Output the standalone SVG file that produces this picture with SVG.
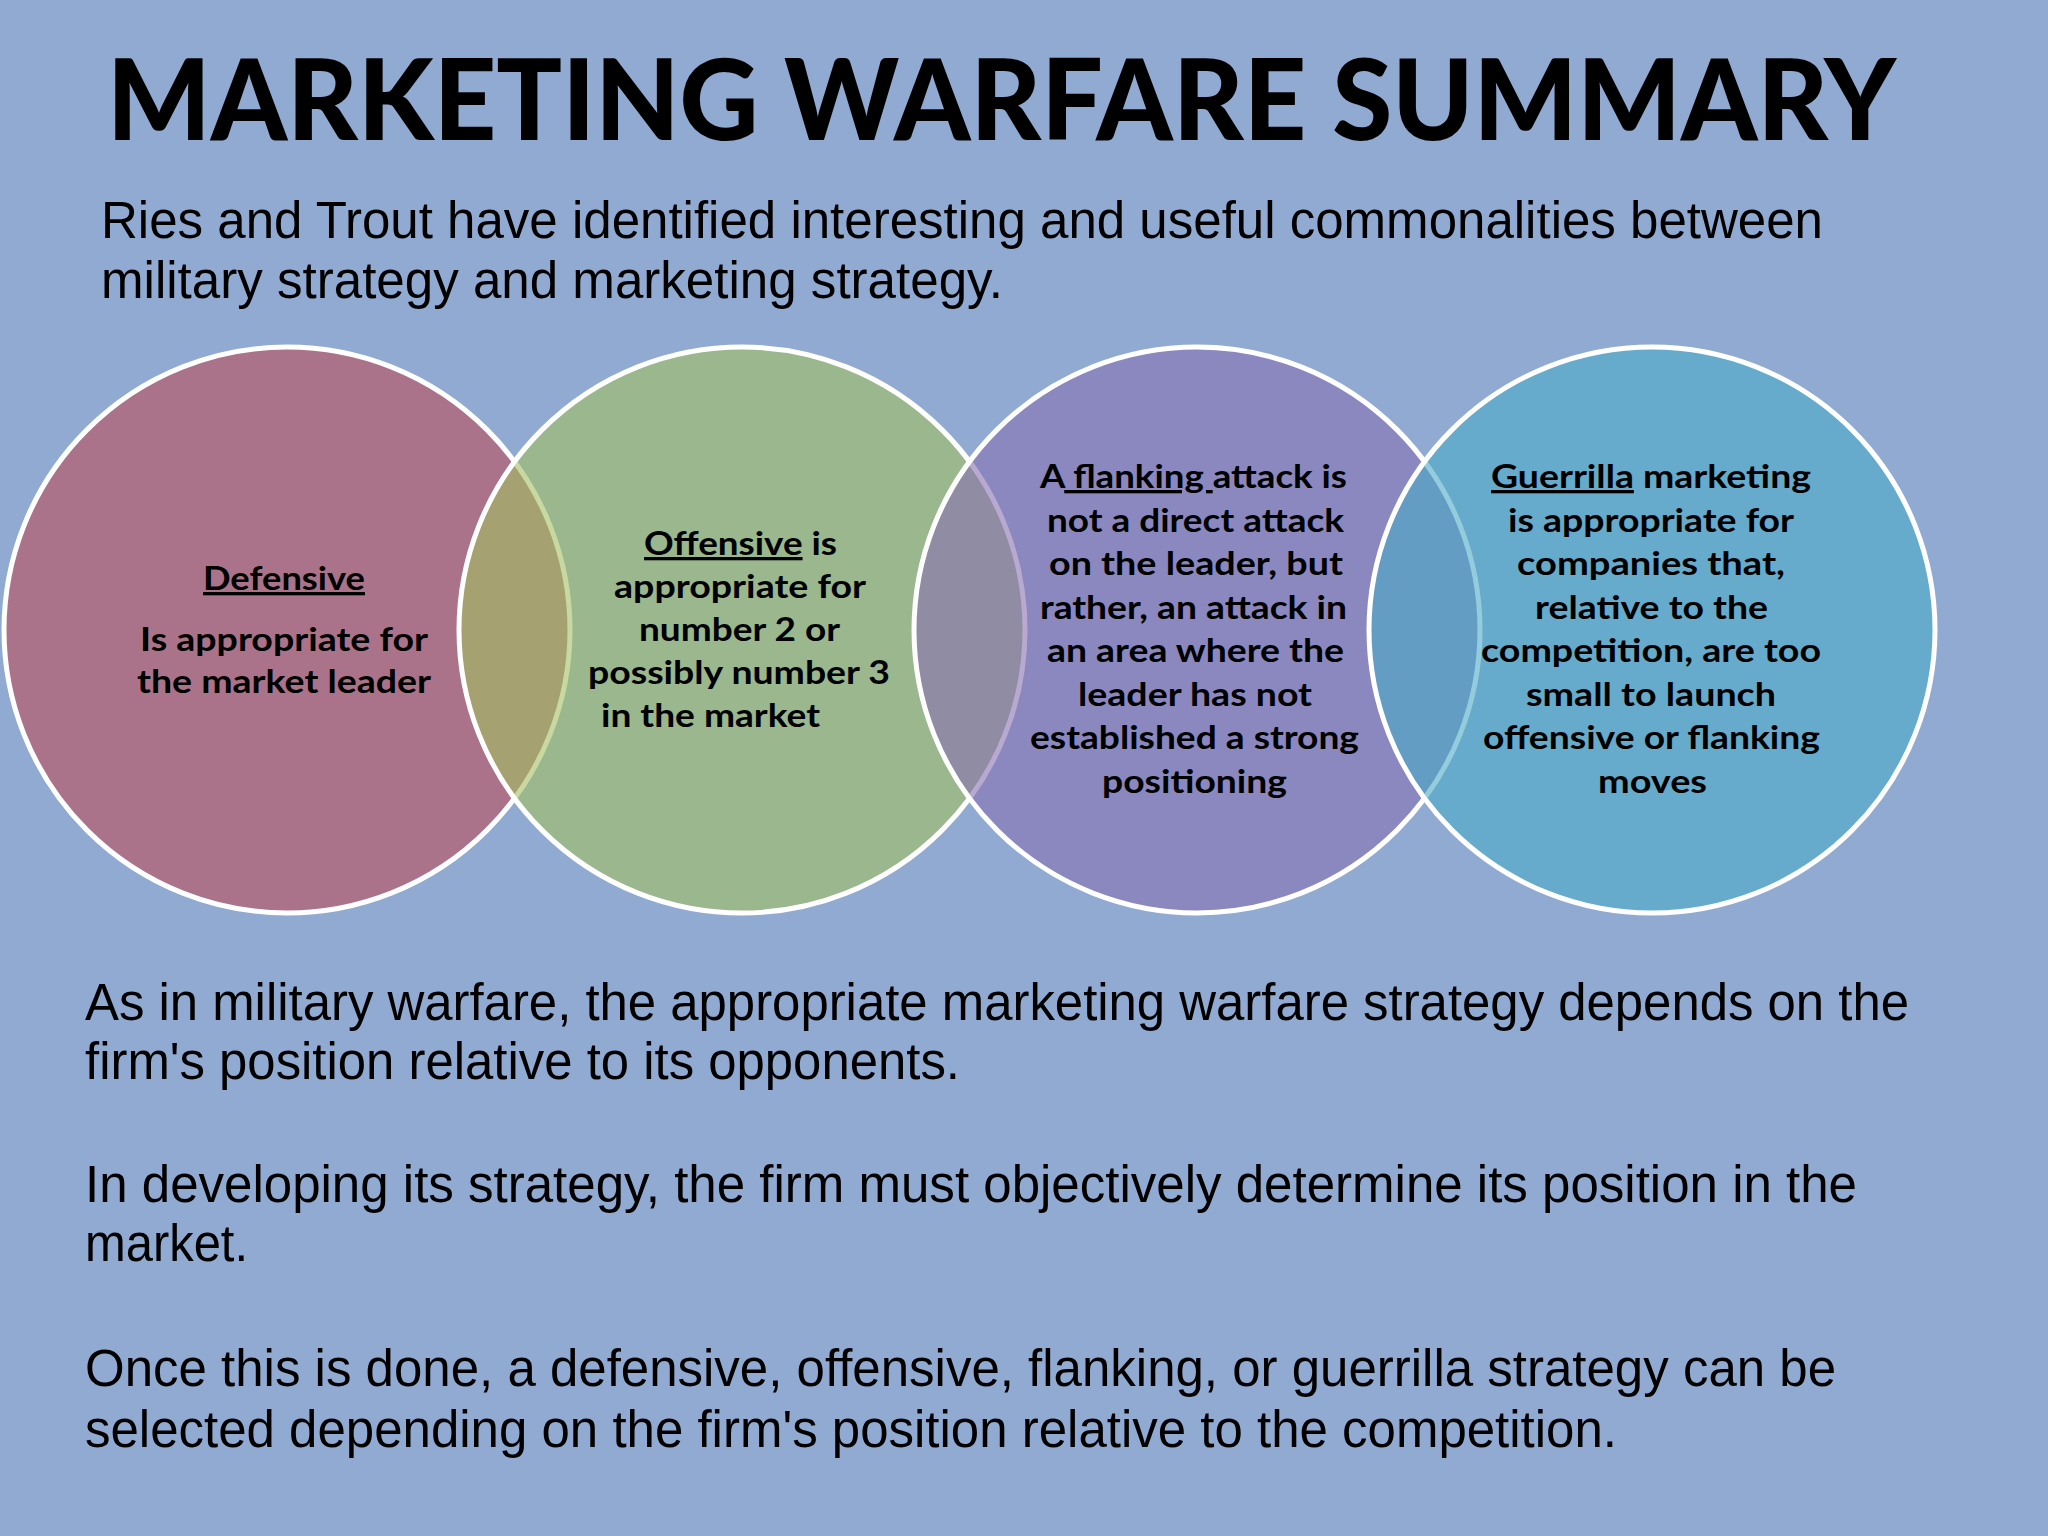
<svg xmlns="http://www.w3.org/2000/svg" width="2048" height="1536" viewBox="0 0 2048 1536">
<style>
.title{font-family:Lato,"Open Sans","Liberation Sans",sans-serif;font-weight:900;font-size:112px;fill:#000}
.body{font-family:"Liberation Sans",Arial,sans-serif;font-size:51px;fill:#000}
.ct{font-family:Lato,"Open Sans","Liberation Sans",sans-serif;font-weight:700;font-size:33px;fill:#000}
.ul{text-decoration:underline}
.circ{stroke:#fff;stroke-width:5;fill-opacity:0.6}
</style>
<rect x="0" y="0" width="2048" height="1536" fill="#90AAD2"/>
<text class="title" x="107" y="140" textLength="1789" lengthAdjust="spacingAndGlyphs">MARKETING WARFARE SUMMARY</text>
<g id="intro">
<text class="body" x="101" y="238" textLength="1722" lengthAdjust="spacingAndGlyphs">Ries and Trout have identified interesting and useful commonalities between</text>
<text class="body" x="101" y="298" textLength="902" lengthAdjust="spacingAndGlyphs">military strategy and marketing strategy.</text>
</g>
<g id="defensive">
<circle class="circ" cx="287" cy="630" r="283" fill="#BE4E58"/>
</g>
<g id="offensive">
<circle class="circ" cx="742" cy="630" r="283" fill="#A2C060"/>
</g>
<g id="flanking">
<circle class="circ" cx="1197" cy="630" r="283" fill="#8870B2"/>
</g>
<g id="guerrilla">
<circle class="circ" cx="1652" cy="630" r="283" fill="#4BACC6"/>
</g>
<g id="connectors"></g>
<g id="labels">
<text class="ct" x="203" y="590" textLength="162" lengthAdjust="spacingAndGlyphs"><tspan class="ul">Defensive</tspan></text>
<text class="ct" x="140" y="651" textLength="288" lengthAdjust="spacingAndGlyphs">Is appropriate for</text>
<text class="ct" x="137" y="693" textLength="294" lengthAdjust="spacingAndGlyphs">the market leader</text>

<text class="ct" x="644" y="555" textLength="193" lengthAdjust="spacingAndGlyphs"><tspan class="ul">Offensive</tspan> is</text>
<text class="ct" x="614" y="598" textLength="252" lengthAdjust="spacingAndGlyphs">appropriate for</text>
<text class="ct" x="639" y="641" textLength="201" lengthAdjust="spacingAndGlyphs">number 2 or</text>
<text class="ct" x="588" y="684" textLength="302" lengthAdjust="spacingAndGlyphs">possibly number 3</text>
<text class="ct" x="601" y="727" textLength="219" lengthAdjust="spacingAndGlyphs">in the market</text>

<text class="ct" x="1040" y="488" textLength="307" lengthAdjust="spacingAndGlyphs">A<tspan class="ul"> flanking </tspan>attack is</text>
<text class="ct" x="1047" y="531.5" textLength="297" lengthAdjust="spacingAndGlyphs">not a direct attack</text>
<text class="ct" x="1049" y="575" textLength="294" lengthAdjust="spacingAndGlyphs">on the leader, but</text>
<text class="ct" x="1040" y="618.5" textLength="307" lengthAdjust="spacingAndGlyphs">rather, an attack in</text>
<text class="ct" x="1047" y="662" textLength="297" lengthAdjust="spacingAndGlyphs">an area where the</text>
<text class="ct" x="1078" y="705.5" textLength="234" lengthAdjust="spacingAndGlyphs">leader has not</text>
<text class="ct" x="1030" y="749" textLength="329" lengthAdjust="spacingAndGlyphs">established a strong</text>
<text class="ct" x="1102" y="792.5" textLength="185" lengthAdjust="spacingAndGlyphs">positioning</text>

<text class="ct" x="1491" y="488" textLength="320" lengthAdjust="spacingAndGlyphs"><tspan class="ul">Guerrilla</tspan> marketing</text>
<text class="ct" x="1508" y="531.5" textLength="286" lengthAdjust="spacingAndGlyphs">is appropriate for</text>
<text class="ct" x="1517" y="575" textLength="268" lengthAdjust="spacingAndGlyphs">companies that,</text>
<text class="ct" x="1535" y="618.5" textLength="233" lengthAdjust="spacingAndGlyphs">relative to the</text>
<text class="ct" x="1481" y="662" textLength="340" lengthAdjust="spacingAndGlyphs">competition, are too</text>
<text class="ct" x="1526" y="705.5" textLength="250" lengthAdjust="spacingAndGlyphs">small to launch</text>
<text class="ct" x="1483" y="749" textLength="337" lengthAdjust="spacingAndGlyphs">offensive or flanking</text>
<text class="ct" x="1598" y="792.5" textLength="109" lengthAdjust="spacingAndGlyphs">moves</text>
</g>
<g id="summary">
<text class="body" x="85" y="1020" textLength="1824" lengthAdjust="spacingAndGlyphs">As in military warfare, the appropriate marketing warfare strategy depends on the</text>
<text class="body" x="85" y="1079" textLength="875" lengthAdjust="spacingAndGlyphs">firm's position relative to its opponents.</text>
<text class="body" x="85" y="1202" textLength="1772" lengthAdjust="spacingAndGlyphs">In developing its strategy, the firm must objectively determine its position in the</text>
<text class="body" x="85" y="1261" textLength="163" lengthAdjust="spacingAndGlyphs">market.</text>
<text class="body" x="85" y="1386" textLength="1751" lengthAdjust="spacingAndGlyphs">Once this is done, a defensive, offensive, flanking, or guerrilla strategy can be</text>
<text class="body" x="85" y="1447" textLength="1532" lengthAdjust="spacingAndGlyphs">selected depending on the firm's position relative to the competition.</text>
</g>
</svg>
